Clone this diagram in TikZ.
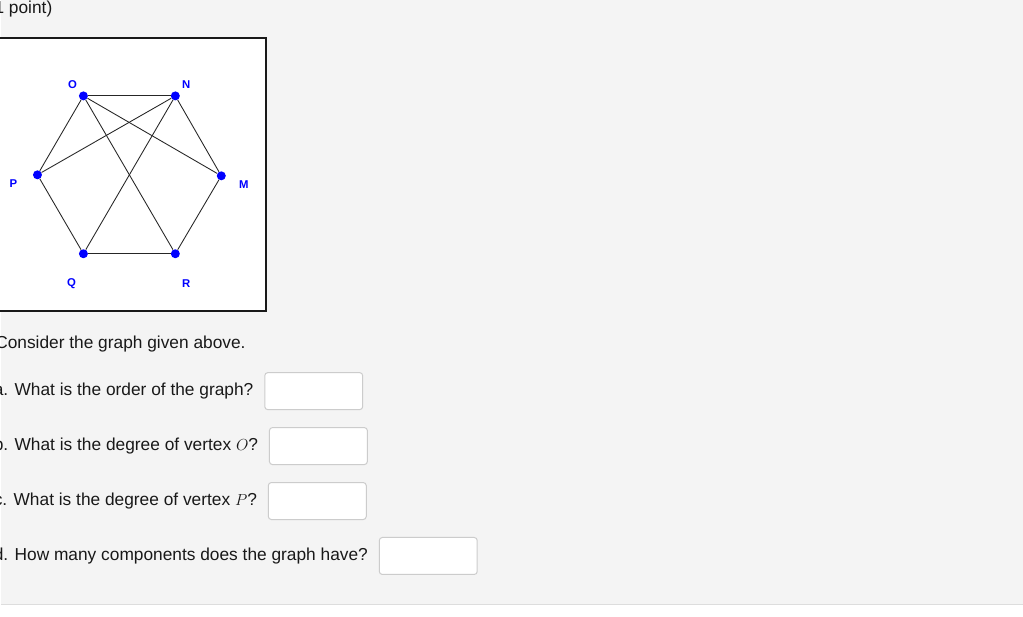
\documentclass[tikz,border=0pt]{standalone}
\usepackage{fontspec}
\setmainfont{Liberation Sans}
\usetikzlibrary{positioning}
\definecolor{pagegray}{HTML}{F4F4F4}
\definecolor{rulegray}{HTML}{DDDDDD}
\definecolor{boxgray}{HTML}{CCCCCC}
\definecolor{vblue}{HTML}{0000FF}
\tikzset{
  vert/.style={circle, fill=vblue, inner sep=0pt, minimum size=6.75pt},
  vlabel/.style={text=vblue, font=\fontsize{8.5}{9}\selectfont\bfseries, inner sep=0pt},
  edge/.style={black!85, line width=0.65pt},
  qtext/.style={anchor=base west, inner sep=0pt, font=\fontsize{13}{15}\selectfont, text=black!90},
  ansbox/.style={draw=boxgray, fill=white, rounded corners=2.25pt, minimum width=73.5pt,
    minimum height=27.75pt, inner sep=0pt, line width=0.75pt}
}

\begin{document}
\begin{tikzpicture}[x=0.75pt, y=-0.75pt]
      % page background
      \fill[pagegray] (0,0) rectangle (1023,605);
      \fill[white] (0,605) rectangle (1023,617);
      \draw[rulegray, line width=0.75pt] (0,605) -- (1023,605);
      \useasboundingbox (0,0) rectangle (1023,617);

      \node[qtext] (pts) at (-12,14) {(1 point)};

      % graph frame
      \draw[black!90, line width=1.5pt, fill=white] (-2,38.5) rectangle (265.5,311.5);

      \node[vert] (O) at (83,96) {};
      \node[vert] (N) at (175,96) {};
      \node[vert] (P) at (37,175) {};
      \node[vert] (M) at (221,176) {};
      \node[vert] (Q) at (83,254) {};
      \node[vert] (R) at (175,254) {};

      \draw[edge] (O) -- (N);
      \draw[edge] (O) -- (P);
      \draw[edge] (O) -- (M);
      \draw[edge] (O) -- (R);
      \draw[edge] (N) -- (P);
      \draw[edge] (N) -- (M);
      \draw[edge] (N) -- (Q);
      \draw[edge] (P) -- (Q);
      \draw[edge] (M) -- (R);
      \draw[edge] (Q) -- (R);

      \node[vlabel] (lO) at (72,85) {O};
      \node[vlabel] (lN) at (186,85) {N};
      \node[vlabel] (lP) at (13,183.5) {P};
      \node[vlabel] (lM) at (243.5,184.5) {M};
      \node[vlabel] (lQ) at (71,283.5) {Q};
      \node[vlabel] (lR) at (186,283.5) {R};

      % questions
      \node[qtext] (intro) at (-5.5,349) {Consider the graph given above.};
      \node[qtext] (qa) at (-7,396) {a. What is the order of the graph?};
      \node[qtext] (qb) at (-7,451) {b. What is the degree of vertex $O$?};
      \node[qtext] (qc) at (-7,506) {c. What is the degree of vertex $P$?};
      \node[qtext] (qd) at (-7,561) {d. How many components does the graph have?};

      \node[ansbox, right=8pt of qa] (ansa) {};
      \node[ansbox, right=8pt of qb] (ansb) {};
      \node[ansbox, right=8pt of qc] (ansc) {};
      \node[ansbox, right=8pt of qd] (ansd) {};
\end{tikzpicture}
\end{document}
